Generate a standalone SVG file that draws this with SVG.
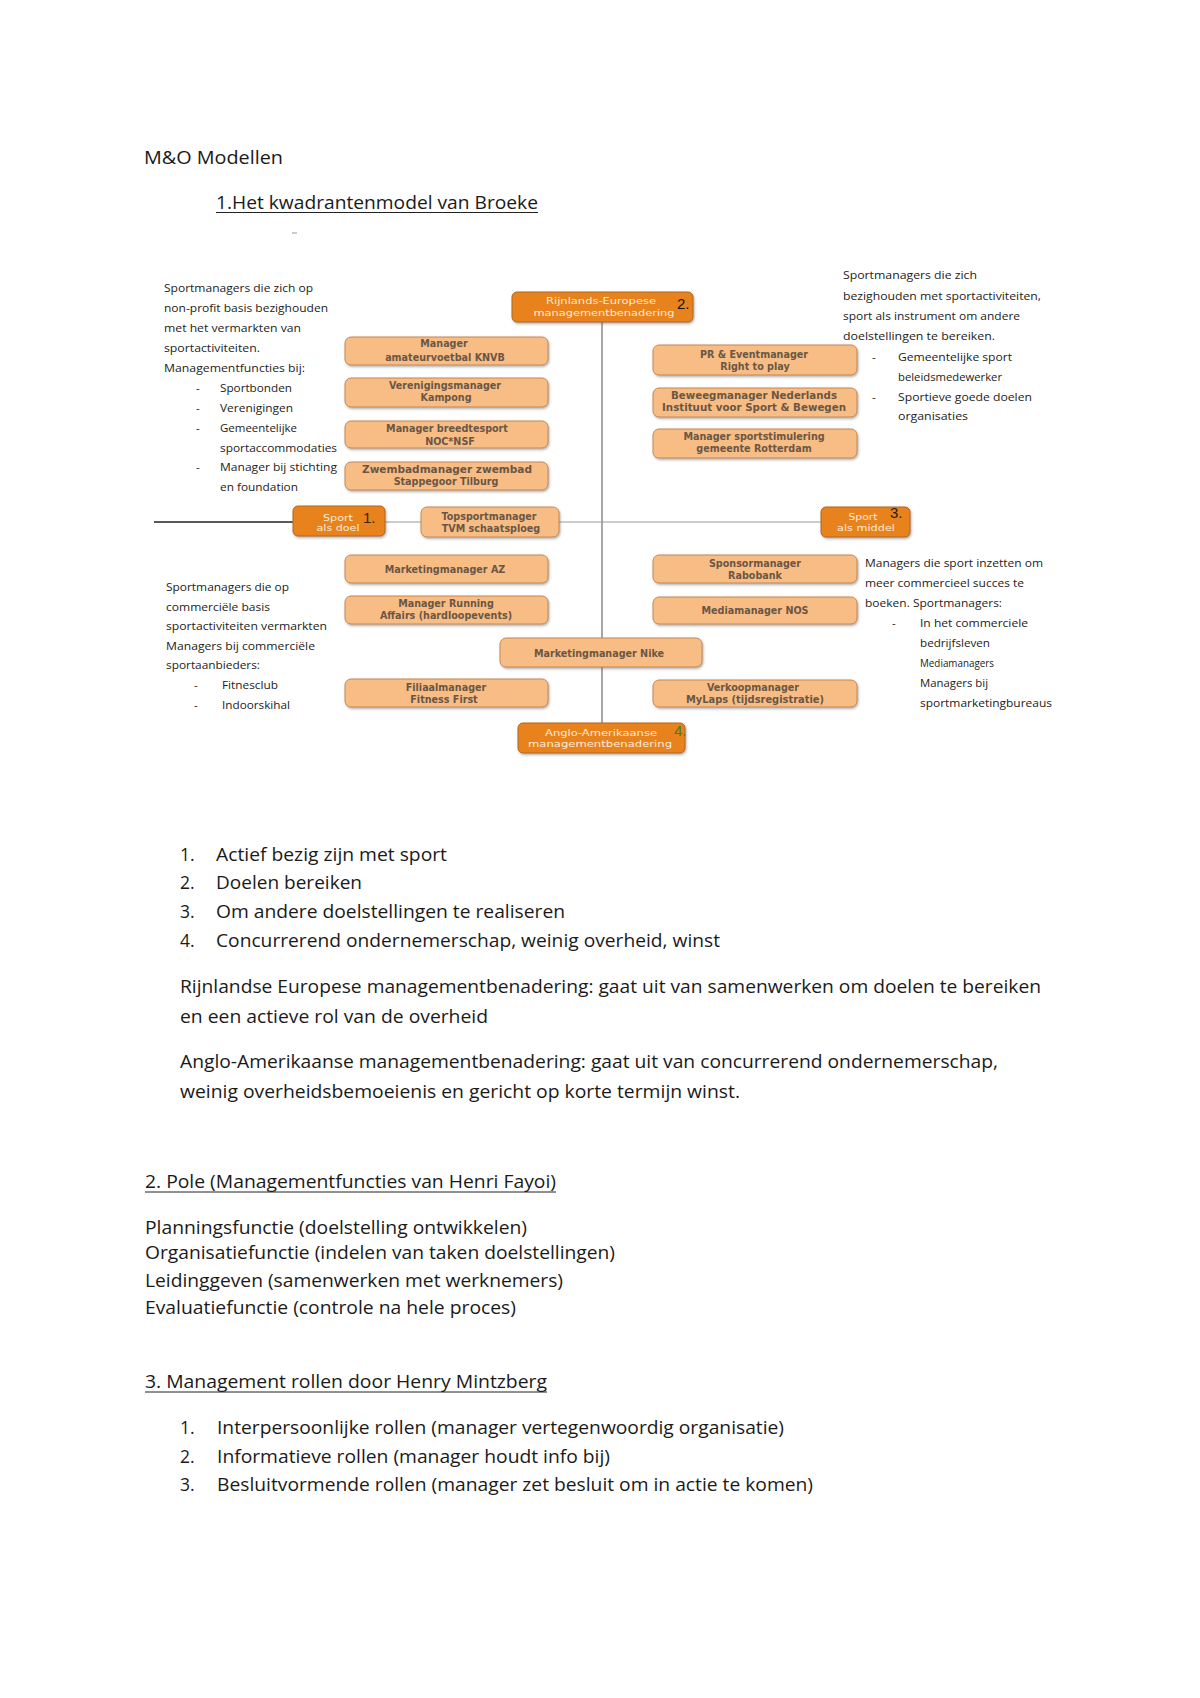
<svg xmlns="http://www.w3.org/2000/svg" width="1200" height="1698" viewBox="0 0 1200 1698">
<defs>
<style>
.t{font-family:"Open Sans","Liberation Sans",sans-serif;fill:#1a1a1a}
.h{font-size:18px}
.b{font-size:17.5px}
.s{font-size:11.5px;fill:#222}
.bx{fill:#F8BD84;stroke:#C48855;stroke-width:1}
.ob{fill:#E8821E;stroke:#B0661E;stroke-width:1}
.bt{font-family:"DejaVu Sans","Liberation Sans",sans-serif;font-size:9.6px;font-weight:bold;fill:#6a5646;text-anchor:middle}
.ot{font-family:"DejaVu Sans","Liberation Sans",sans-serif;font-size:9.5px;fill:#FFEBD6;text-anchor:middle}
.num{font-family:"Liberation Sans",sans-serif;font-size:15px}
.ul{stroke:#222;stroke-width:1}
</style>
<filter id="sh" x="-10%" y="-20%" width="120%" height="150%">
<feDropShadow dx="1" dy="1.5" stdDeviation="0.8" flood-color="#555" flood-opacity="0.45"/>
</filter>
<linearGradient id="rl" x1="0" x2="1" y1="0" y2="0">
<stop offset="0" stop-color="#ddd"/><stop offset="1" stop-color="#111"/>
</linearGradient>
</defs>
<rect width="1200" height="1698" fill="#fff"/>

<!-- headings -->
<text class="t h" x="144" y="164" textLength="139" lengthAdjust="spacingAndGlyphs">M&amp;O Modellen</text>
<text class="t h" x="216" y="209" textLength="322" lengthAdjust="spacingAndGlyphs">1.Het kwadrantenmodel van Broeke</text>
<line class="ul" x1="216" y1="212.5" x2="538" y2="212.5"/>
<line x1="292" y1="233" x2="297" y2="233" stroke="#999" stroke-width="1"/>

<!-- connectors -->
<g id="connectors">
<line x1="602" y1="322" x2="602" y2="723" stroke="#8a8a8a" stroke-width="1.5"/>
<line x1="385" y1="522" x2="821" y2="522" stroke="#9a9a9a" stroke-width="1.2"/>
<line x1="154" y1="522" x2="293" y2="522" stroke="#222" stroke-width="1.5"/>
<line x1="928" y1="521" x2="1055" y2="521" stroke="url(#rl)" stroke-width="1.5"/>
</g>

<!-- side texts -->
<g id="text-top-left" class="t s">
<text x="164" y="292" textLength="149" lengthAdjust="spacingAndGlyphs">Sportmanagers die zich op</text>
<text x="164" y="312" textLength="164" lengthAdjust="spacingAndGlyphs">non-profit basis bezighouden</text>
<text x="164" y="332" textLength="137" lengthAdjust="spacingAndGlyphs">met het vermarkten van</text>
<text x="164" y="352" textLength="96" lengthAdjust="spacingAndGlyphs">sportactiviteiten.</text>
<text x="164" y="372" textLength="141" lengthAdjust="spacingAndGlyphs">Managementfuncties bij:</text>
<text x="196" y="392">-</text><text x="220" y="392" textLength="72" lengthAdjust="spacingAndGlyphs">Sportbonden</text>
<text x="196" y="412">-</text><text x="220" y="412" textLength="73" lengthAdjust="spacingAndGlyphs">Verenigingen</text>
<text x="196" y="432">-</text><text x="220" y="432" textLength="77" lengthAdjust="spacingAndGlyphs">Gemeentelijke</text>
<text x="220" y="452" textLength="117" lengthAdjust="spacingAndGlyphs">sportaccommodaties</text>
<text x="196" y="471">-</text><text x="220" y="471" textLength="117" lengthAdjust="spacingAndGlyphs">Manager bij stichting</text>
<text x="220" y="491" textLength="78" lengthAdjust="spacingAndGlyphs">en foundation</text>
</g>
<g id="text-top-right" class="t s">
<text x="843" y="279" textLength="134" lengthAdjust="spacingAndGlyphs">Sportmanagers die zich</text>
<text x="843" y="300" textLength="198" lengthAdjust="spacingAndGlyphs">bezighouden met sportactiviteiten,</text>
<text x="843" y="320" textLength="177" lengthAdjust="spacingAndGlyphs">sport als instrument om andere</text>
<text x="843" y="340" textLength="152" lengthAdjust="spacingAndGlyphs">doelstellingen te bereiken.</text>
<text x="872" y="361">-</text><text x="898" y="361" textLength="114" lengthAdjust="spacingAndGlyphs">Gemeentelijke sport</text>
<text x="898" y="381" textLength="104" lengthAdjust="spacingAndGlyphs">beleidsmedewerker</text>
<text x="872" y="401">-</text><text x="898" y="401" textLength="134" lengthAdjust="spacingAndGlyphs">Sportieve goede doelen</text>
<text x="898" y="420" textLength="70" lengthAdjust="spacingAndGlyphs">organisaties</text>
</g>
<g id="text-bottom-left" class="t s">
<text x="166" y="591" textLength="123" lengthAdjust="spacingAndGlyphs">Sportmanagers die op</text>
<text x="166" y="611" textLength="104" lengthAdjust="spacingAndGlyphs">commerciële basis</text>
<text x="166" y="630" textLength="161" lengthAdjust="spacingAndGlyphs">sportactiviteiten vermarkten</text>
<text x="166" y="650" textLength="149" lengthAdjust="spacingAndGlyphs">Managers bij commerciële</text>
<text x="166" y="669" textLength="94" lengthAdjust="spacingAndGlyphs">sportaanbieders:</text>
<text x="194" y="689">-</text><text x="222" y="689" textLength="56" lengthAdjust="spacingAndGlyphs">Fitnesclub</text>
<text x="194" y="709">-</text><text x="222" y="709" textLength="68" lengthAdjust="spacingAndGlyphs">Indoorskihal</text>
</g>
<g id="text-bottom-right" class="t s">
<text x="865" y="567" textLength="178" lengthAdjust="spacingAndGlyphs">Managers die sport inzetten om</text>
<text x="865" y="587" textLength="159" lengthAdjust="spacingAndGlyphs">meer commercieel succes te</text>
<text x="865" y="607" textLength="137" lengthAdjust="spacingAndGlyphs">boeken. Sportmanagers:</text>
<text x="892" y="627">-</text><text x="920" y="627" textLength="108" lengthAdjust="spacingAndGlyphs">In het commerciele</text>
<text x="920" y="647" textLength="70" lengthAdjust="spacingAndGlyphs">bedrijfsleven</text>
<text x="920" y="667" textLength="74" lengthAdjust="spacingAndGlyphs">Mediamanagers</text>
<text x="920" y="687" textLength="68" lengthAdjust="spacingAndGlyphs">Managers bij</text>
<text x="920" y="707" textLength="132" lengthAdjust="spacingAndGlyphs">sportmarketingbureaus</text>
</g>

<!-- nodes -->
<g id="n-rijnlands"><rect class="ob" x="512" y="292" width="181" height="30" rx="5" filter="url(#sh)"/>
<text class="ot" x="601" y="304" textLength="110" lengthAdjust="spacingAndGlyphs">Rijnlands-Europese</text>
<text class="ot" x="604" y="316" textLength="141" lengthAdjust="spacingAndGlyphs">managementbenadering</text>
<text class="num" x="677" y="309" fill="#111">2.</text></g>

<g id="n-knvb"><rect class="bx" x="345" y="337" width="203" height="28" rx="6" filter="url(#sh)"/>
<text class="bt" x="444" y="347">Manager</text>
<text class="bt" x="445" y="360.5">amateurvoetbal KNVB</text></g>

<g id="n-kampong"><rect class="bx" x="345" y="378" width="203" height="29" rx="6" filter="url(#sh)"/>
<text class="bt" x="445" y="389">Verenigingsmanager</text>
<text class="bt" x="446" y="401">Kampong</text></g>

<g id="n-nocnsf"><rect class="bx" x="345" y="421" width="203" height="27" rx="6" filter="url(#sh)"/>
<text class="bt" x="447" y="432">Manager breedtesport</text>
<text class="bt" x="450" y="445">NOC*NSF</text></g>

<g id="n-zwembad"><rect class="bx" x="345" y="462" width="203" height="28" rx="6" filter="url(#sh)"/>
<text class="bt" x="447" y="473" textLength="170" lengthAdjust="spacingAndGlyphs">Zwembadmanager zwembad</text>
<text class="bt" x="446" y="485">Stappegoor Tilburg</text></g>

<g id="n-pr"><rect class="bx" x="653" y="345" width="204" height="30" rx="6" filter="url(#sh)"/>
<text class="bt" x="754" y="358">PR &amp; Eventmanager</text>
<text class="bt" x="755" y="370">Right to play</text></g>

<g id="n-beweeg"><rect class="bx" x="653" y="388" width="204" height="29" rx="6" filter="url(#sh)"/>
<text class="bt" x="754" y="399" textLength="166" lengthAdjust="spacingAndGlyphs">Beweegmanager Nederlands</text>
<text class="bt" x="754" y="411" textLength="184" lengthAdjust="spacingAndGlyphs">Instituut voor Sport &amp; Bewegen</text></g>

<g id="n-rotterdam"><rect class="bx" x="653" y="429" width="204" height="29" rx="6" filter="url(#sh)"/>
<text class="bt" x="754" y="440">Manager sportstimulering</text>
<text class="bt" x="754" y="452">gemeente Rotterdam</text></g>

<g id="n-sportdoel"><rect class="ob" x="293" y="506" width="92" height="30" rx="5" filter="url(#sh)"/>
<text class="ot" x="338" y="520.5" textLength="30" lengthAdjust="spacingAndGlyphs">Sport</text>
<text class="ot" x="338" y="531" textLength="43" lengthAdjust="spacingAndGlyphs">als doel</text>
<text class="num" x="363" y="523" fill="#3b2000">1.</text></g>

<g id="n-topsport"><rect class="bx" x="421" y="507" width="138" height="30" rx="6" filter="url(#sh)"/>
<text class="bt" x="489" y="520">Topsportmanager</text>
<text class="bt" x="491" y="531.5">TVM schaatsploeg</text></g>

<g id="n-sportmiddel"><rect class="ob" x="821" y="507" width="89" height="30" rx="5" filter="url(#sh)"/>
<text class="ot" x="863" y="520" textLength="29" lengthAdjust="spacingAndGlyphs">Sport</text>
<text class="ot" x="866" y="531" textLength="58" lengthAdjust="spacingAndGlyphs">als middel</text>
<text class="num" x="890" y="518" fill="#1a2200">3.</text></g>

<g id="n-az"><rect class="bx" x="345" y="555" width="203" height="28" rx="6" filter="url(#sh)"/>
<text class="bt" x="445" y="572.5">Marketingmanager AZ</text></g>

<g id="n-running"><rect class="bx" x="345" y="596" width="203" height="28" rx="6" filter="url(#sh)"/>
<text class="bt" x="446" y="607">Manager Running</text>
<text class="bt" x="446" y="619">Affairs (hardloopevents)</text></g>

<g id="n-rabobank"><rect class="bx" x="653" y="555" width="204" height="28" rx="6" filter="url(#sh)"/>
<text class="bt" x="755" y="566.5">Sponsormanager</text>
<text class="bt" x="755" y="578.5">Rabobank</text></g>

<g id="n-nos"><rect class="bx" x="653" y="597" width="204" height="27" rx="6" filter="url(#sh)"/>
<text class="bt" x="755" y="613.5">Mediamanager NOS</text></g>

<g id="n-nike"><rect class="bx" x="500" y="638" width="202" height="29" rx="6" filter="url(#sh)"/>
<text class="bt" x="599" y="656.5">Marketingmanager Nike</text></g>

<g id="n-fitness"><rect class="bx" x="345" y="679" width="203" height="28" rx="6" filter="url(#sh)"/>
<text class="bt" x="446" y="691">Filiaalmanager</text>
<text class="bt" x="444" y="703">Fitness First</text></g>

<g id="n-mylaps"><rect class="bx" x="653" y="680" width="204" height="27" rx="6" filter="url(#sh)"/>
<text class="bt" x="753" y="691">Verkoopmanager</text>
<text class="bt" x="755" y="703" textLength="138" lengthAdjust="spacingAndGlyphs">MyLaps (tijdsregistratie)</text></g>

<g id="n-anglo"><rect class="ob" x="518" y="723" width="167" height="30" rx="5" filter="url(#sh)"/>
<text class="ot" x="601" y="735.5" textLength="112" lengthAdjust="spacingAndGlyphs">Anglo-Amerikaanse</text>
<text class="ot" x="600" y="746.5" textLength="144" lengthAdjust="spacingAndGlyphs">managementbenadering</text>
<text class="num" x="674" y="736" fill="#3f7f1f">4.</text></g>

<!-- body text -->
<g id="body-1" class="t b">
<text x="180" y="861">1.</text><text x="216" y="861" textLength="231" lengthAdjust="spacingAndGlyphs">Actief bezig zijn met sport</text>
<text x="180" y="889">2.</text><text x="216" y="889" textLength="146" lengthAdjust="spacingAndGlyphs">Doelen bereiken</text>
<text x="180" y="918">3.</text><text x="216" y="918" textLength="349" lengthAdjust="spacingAndGlyphs">Om andere doelstellingen te realiseren</text>
<text x="180" y="947">4.</text><text x="216" y="947" textLength="504" lengthAdjust="spacingAndGlyphs">Concurrerend ondernemerschap, weinig overheid, winst</text>
<text x="180" y="993" textLength="861" lengthAdjust="spacingAndGlyphs">Rijnlandse Europese managementbenadering: gaat uit van samenwerken om doelen te bereiken</text>
<text x="180" y="1023" textLength="308" lengthAdjust="spacingAndGlyphs">en een actieve rol van de overheid</text>
<text x="180" y="1068" textLength="818" lengthAdjust="spacingAndGlyphs">Anglo-Amerikaanse managementbenadering: gaat uit van concurrerend ondernemerschap,</text>
<text x="180" y="1098" textLength="560" lengthAdjust="spacingAndGlyphs">weinig overheidsbemoeienis en gericht op korte termijn winst.</text>
</g>

<g id="body-2" class="t b">
<text x="145" y="1188" textLength="411" lengthAdjust="spacingAndGlyphs">2. Pole (Managementfuncties van Henri Fayoi)</text>
<line class="ul" x1="145" y1="1192" x2="556" y2="1192"/>
<text x="145" y="1234" textLength="382" lengthAdjust="spacingAndGlyphs">Planningsfunctie (doelstelling ontwikkelen)</text>
<text x="145" y="1259" textLength="470" lengthAdjust="spacingAndGlyphs">Organisatiefunctie (indelen van taken doelstellingen)</text>
<text x="145" y="1287" textLength="418" lengthAdjust="spacingAndGlyphs">Leidinggeven (samenwerken met werknemers)</text>
<text x="145" y="1314" textLength="371" lengthAdjust="spacingAndGlyphs">Evaluatiefunctie (controle na hele proces)</text>
</g>

<g id="body-3" class="t b">
<text x="145" y="1388" textLength="402" lengthAdjust="spacingAndGlyphs">3. Management rollen door Henry Mintzberg</text>
<line class="ul" x1="145" y1="1392" x2="547" y2="1392"/>
<text x="180" y="1434">1.</text><text x="217" y="1434" textLength="567" lengthAdjust="spacingAndGlyphs">Interpersoonlijke rollen (manager vertegenwoordig organisatie)</text>
<text x="180" y="1463">2.</text><text x="217" y="1463" textLength="393" lengthAdjust="spacingAndGlyphs">Informatieve rollen (manager houdt info bij)</text>
<text x="180" y="1491">3.</text><text x="217" y="1491" textLength="596" lengthAdjust="spacingAndGlyphs">Besluitvormende rollen (manager zet besluit om in actie te komen)</text>
</g>
</svg>
